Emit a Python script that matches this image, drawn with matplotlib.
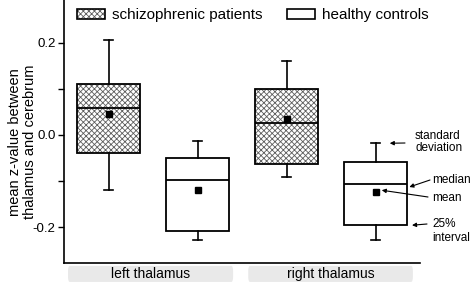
import matplotlib
matplotlib.use("Agg")
import matplotlib.pyplot as plt
from matplotlib.patches import FancyBboxPatch, Patch
from matplotlib.legend_handler import HandlerTuple
import matplotlib.transforms as mtransforms

plt.rcParams['font.family'] = ['Liberation Sans', 'DejaVu Sans']
plt.rcParams['hatch.linewidth'] = 0.6

# data
groups = ["schizophrenic patients", "healthy controls"]
regions = ["left thalamus", "right thalamus"]
q3 = [0.111, -0.050, 0.100, -0.058]
medians = [0.058, -0.098, 0.026, -0.107]
q1 = [-0.039, -0.209, -0.063, -0.196]
whis_hi = [0.207, -0.013, 0.160, -0.018]
whis_lo = [-0.120, -0.228, -0.091, -0.228]
means = [0.045, -0.120, 0.035, -0.124]
yticks = [-0.2, 0.0, 0.2]
yticklabels = ["-0.2", "0.0", "0.2"]

HATCH_COL = '#5e5e5e'

fig = plt.figure(figsize=(4.74, 2.96), dpi=100)
ax = fig.add_axes([64/474, 1-263/296, 356/474, 263/296])

stats = []
for i in range(4):
    stats.append(dict(med=medians[i], q1=q1[i], q3=q3[i], whislo=whis_lo[i],
                      whishi=whis_hi[i], mean=means[i], fliers=[]))
positions = [0.5, 1.5, 2.5, 3.5]
bp = ax.bxp(stats, positions=positions, widths=0.7, capwidths=0.11,
            patch_artist=True, showmeans=True, showfliers=False,
            boxprops=dict(linewidth=1.3, edgecolor='black'),
            medianprops=dict(color='black', linewidth=1.3),
            whiskerprops=dict(color='black', linewidth=1.2),
            capprops=dict(color='black', linewidth=1.2),
            meanprops=dict(marker='s', markerfacecolor='black', markeredgecolor='black', markersize=4.5))
for i, b in enumerate(bp['boxes']):
    if i % 2 == 0:
        b.set_facecolor('white')
        b.set_hatch('xxxxxx')
        b.set_edgecolor(HATCH_COL)
        b.set_linewidth(0)
        x0 = positions[i] - 0.35
        ax.add_patch(plt.Rectangle((x0, q1[i]), 0.7, q3[i]-q1[i], fill=False,
                                   edgecolor='black', linewidth=1.3, zorder=3))
    else:
        b.set_facecolor('white')

ax.set_xlim(0, 4)
ax.set_ylim(-0.278, 0.293)
ax.set_xticks([])
ax.set_yticks(yticks)
ax.set_yticklabels(yticklabels, fontsize=9.5)
ax.set_yticks([-0.1, 0.1], minor=True)
ax.tick_params(axis='y', which='both', direction='out', length=4, width=1, pad=2)
for s in ['top', 'right']:
    ax.spines[s].set_visible(False)
for s in ['left', 'bottom']:
    ax.spines[s].set_linewidth(1.2)

fig.text(22.5/474, 1 - 142/296, "mean z-value between\nthalamus and cerebrum", rotation=90,
         ha='center', va='center', fontsize=10.5, linespacing=1.1)

# category bands
trans = mtransforms.blended_transform_factory(ax.transData, ax.transAxes)
bands = [(0.045, 1.90), (2.07, 3.92)]
for (a, b), name in zip(bands, regions):
    ax.add_patch(FancyBboxPatch((a, -0.072), b - a, 0.061, boxstyle="round,pad=0,rounding_size=0.02",
                                transform=trans, facecolor='#e9e9e9', edgecolor='none', clip_on=False))
    ax.text((a + b) / 2, -0.043, name, transform=trans, ha='center', va='center', fontsize=10)

# legend
h_hatch = Patch(facecolor='white', edgecolor=HATCH_COL, hatch='xxxxxx', linewidth=0)
h_outline = Patch(facecolor='none', edgecolor='black', linewidth=1.2)
h_plain = Patch(facecolor='white', edgecolor='black', linewidth=1.2)
leg = fig.legend([(h_hatch, h_outline), h_plain], groups, loc='upper left',
                 bbox_to_anchor=(77/474, 1 - 8.5/296), ncol=2,
                 handler_map={tuple: HandlerTuple(ndivide=1, pad=0)},
                 frameon=False, fontsize=11, handlelength=1.8, handleheight=0.6,
                 handletextpad=0.5, columnspacing=1.6, borderpad=0, borderaxespad=0)

# annotations
fs = 8.5
arrow = dict(arrowstyle='-|>', color='black', lw=0.8, mutation_scale=6, shrinkA=0, shrinkB=0)

def px(x, y):
    return (x / 474, 1 - y / 296)

ax.text(*px(415, 142), "standard\ndeviation", transform=fig.transFigure, fontsize=fs,
        ha='left', va='center', linespacing=1.1)
ax.annotate("", xy=(3.66, whis_hi[3]), xytext=px(405, 143), textcoords='figure fraction',
            arrowprops=arrow, annotation_clip=False)
ax.text(*px(432, 180), "median", transform=fig.transFigure, fontsize=fs, ha='left', va='center')
ax.annotate("", xy=(3.88, medians[3] - 0.006), xytext=px(430, 180), textcoords='figure fraction',
            arrowprops=arrow, annotation_clip=False)
ax.text(*px(432, 198), "mean", transform=fig.transFigure, fontsize=fs, ha='left', va='center')
ax.annotate("", xy=(3.57, means[3] + 0.004), xytext=px(428, 197), textcoords='figure fraction',
            arrowprops=arrow, annotation_clip=False)
ax.text(*px(432, 231), "25%\ninterval", transform=fig.transFigure, fontsize=fs,
        ha='left', va='center', linespacing=1.2)
ax.annotate("", xy=(3.91, q1[3]), xytext=px(427, 224), textcoords='figure fraction',
            arrowprops=arrow, annotation_clip=False)

fig.savefig("out.png", dpi=100)
